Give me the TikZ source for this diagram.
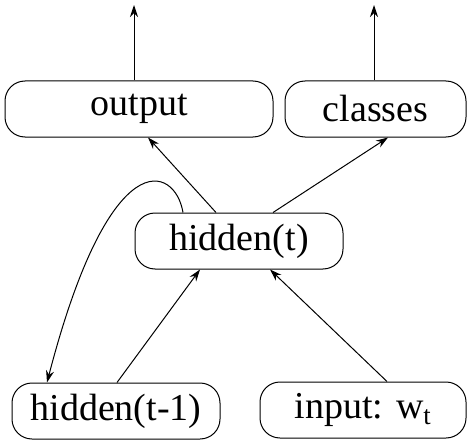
\documentclass[tikz,border=0pt]{standalone}
\usepackage{fontspec}
\setmainfont{Liberation Serif}
\usetikzlibrary{arrows.meta}
\begin{document}
\begin{tikzpicture}[x=1pt,y=1pt,yscale=-1,xscale=1,
  layer/.style={draw,line width=1pt,rounded corners=20pt,minimum height=56pt,inner sep=0pt,
    font=\fontsize{38}{44}\selectfont},
  conn/.style={line width=1pt,-{Stealth[length=12pt,width=8pt,inset=4pt]}}]
\useasboundingbox (0,0) rectangle (474,444);

% Layers
\node [layer,minimum width=268pt] (output) at (139,109) {output};
\node [layer,minimum width=181pt] (classes) at (375.5,109) {classes};
\node [layer,minimum width=208pt] (hidden) at (239,241) {hidden(t)};
\node [layer,minimum width=208pt] (prev) at (116,411) {hidden(t-1)};
\node [layer,minimum width=206pt] (input) at (363,410) {input: w\textsubscript{t}};

% Free ends of the top arrows
\coordinate (outtop) at (134,5);
\coordinate (clstop) at (374,5);

%Straight Lines
\draw [conn] ([xshift=-5pt]output.north) -- (outtop);
\draw [conn] ([xshift=-1.5pt]classes.north) -- (clstop);

\draw [conn] ([xshift=-23pt]hidden.north) -- ([xshift=9pt]output.south);
\draw [conn] ([xshift=34pt]hidden.north) -- ([xshift=12.5pt]classes.south);

\draw [conn] ([xshift=1pt]prev.north) -- ([xshift=-39pt]hidden.south);
\draw [conn] ([xshift=24pt]input.north) -- ([xshift=31pt]hidden.south);

%Curve Lines
\draw [conn] ([xshift=-56pt]hidden.north) .. controls (175,165) and (110,140) .. ([xshift=-69pt]prev.north);

\end{tikzpicture}
\end{document}
